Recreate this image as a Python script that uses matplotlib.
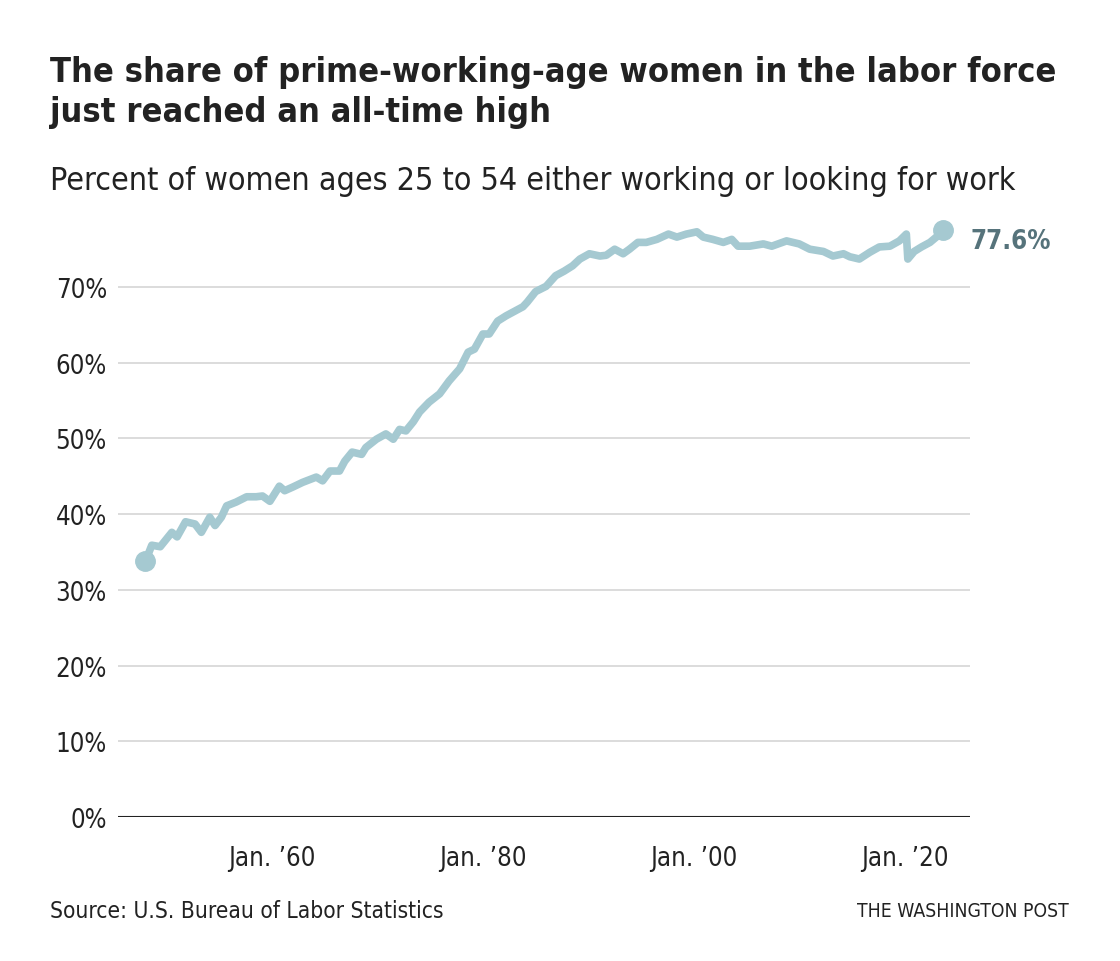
import matplotlib
matplotlib.use('Agg')
import matplotlib.pyplot as plt
from matplotlib.ticker import FixedLocator

plt.rcParams['font.family'] = ['DejaVu Sans']
plt.rcParams['font.stretch'] = 'condensed'

# share of women 25-54 in the labor force
years = [1948.0, 1948.6, 1949.4, 1950.5, 1951.0, 1951.8, 1952.7, 1953.3, 1954.1, 1954.6,
         1955.2, 1955.7, 1956.6, 1957.6, 1958.5, 1959.1, 1959.8, 1960.7, 1961.2, 1962.0,
         1962.9, 1964.2, 1964.8, 1965.5, 1966.4, 1966.9, 1967.6, 1968.5, 1968.9, 1969.9,
         1970.8, 1971.5, 1972.1, 1972.7, 1973.4, 1974.0, 1974.9, 1975.9, 1976.8, 1977.8,
         1978.6, 1979.2, 1980.0, 1980.6, 1981.4, 1982.2, 1983.0, 1983.8, 1984.2, 1985.0,
         1986.0, 1986.9, 1987.7, 1988.5, 1989.2, 1990.1, 1991.1, 1991.7, 1992.5, 1993.3,
         1993.9, 1994.7, 1995.5, 1996.5, 1997.6, 1998.4, 1999.3, 2000.3, 2000.9, 2001.8,
         2002.8, 2003.6, 2004.2, 2005.3, 2006.6, 2007.4, 2008.8, 2010.0, 2011.0, 2012.3,
         2013.2, 2014.2, 2014.8, 2015.7, 2016.7, 2017.6, 2018.6, 2019.5, 2020.16, 2020.3,
         2020.9, 2021.6, 2022.4, 2023.0, 2023.6]
share = [33.8, 35.9, 35.7, 37.6, 37.0, 39.0, 38.7, 37.6, 39.6, 38.5,
         39.6, 41.1, 41.6, 42.3, 42.3, 42.4, 41.7, 43.7, 43.1, 43.6,
         44.2, 44.9, 44.4, 45.7, 45.7, 47.0, 48.2, 47.9, 48.8, 49.9,
         50.6, 49.9, 51.2, 51.0, 52.2, 53.5, 54.8, 55.9, 57.6, 59.2,
         61.4, 61.8, 63.8, 63.8, 65.5, 66.2, 66.8, 67.4, 68.0, 69.4,
         70.1, 71.5, 72.1, 72.8, 73.7, 74.4, 74.1, 74.2, 75.0, 74.4,
         75.0, 75.9, 75.9, 76.3, 77.0, 76.6, 77.0, 77.3, 76.6, 76.3,
         75.9, 76.3, 75.4, 75.4, 75.7, 75.4, 76.1, 75.7, 75.0, 74.7,
         74.1, 74.4, 74.0, 73.7, 74.6, 75.3, 75.4, 76.1, 77.0, 73.7,
         74.7, 75.3, 75.9, 76.6, 77.6]

tick_years = [1960, 1980, 2000, 2020]
tick_labels = ["Jan. \u201960", "Jan. \u201980", "Jan. \u201900", "Jan. \u201920"]
y_ticks = [0, 10, 20, 30, 40, 50, 60, 70]

line_color = '#a5c9d1'
label_color = '#56737b'
text_color = '#222222'

fig = plt.figure(figsize=(11.2, 9.62), dpi=100)
ax = fig.add_axes([0.1054, 0.1497, 0.7607, 0.6268])

ax.plot(years, share, color=line_color, lw=5.5, solid_joinstyle='round',
        solid_capstyle='round', zorder=3)
ax.plot([years[0], years[-1]], [share[0], share[-1]], 'o', color=line_color,
        markersize=14, zorder=4)
ax.annotate(f"{share[-1]:.1f}%", (years[-1], share[-1]), xytext=(20, -8),
            textcoords='offset points', ha='left', va='center', fontsize=18.5,
            fontweight='bold', color=label_color)

ax.set_xlim(1945.4, 2026.2)
ax.set_ylim(0, 79.65)
ax.yaxis.set_major_locator(FixedLocator(y_ticks))
ax.set_yticklabels([f"{v}%" for v in y_ticks])
ax.set_xticks(tick_years)
ax.set_xticklabels(tick_labels)
ax.grid(axis='y', color='#d6d6d6', lw=1.2, zorder=0)
ax.axhline(0, color='#222222', lw=1.5, zorder=2)
for s in ax.spines.values():
    s.set_visible(False)
ax.tick_params(axis='both', length=0, labelsize=18.5, colors=text_color)
ax.tick_params(axis='y', pad=8)
ax.tick_params(axis='x', pad=20)

fig.text(0.0446, 0.866, "The share of prime-working-age women in the labor force\njust reached an all-time high",
         fontsize=24.7, fontweight='bold', color=text_color, ha='left', va='bottom',
         linespacing=1.25)
fig.text(0.0446, 0.811, "Percent of women ages 25 to 54 either working or looking for work",
         fontsize=23, color=text_color, ha='left', va='center')
fig.text(0.0446, 0.053, "Source: U.S. Bureau of Labor Statistics", fontsize=16.3,
         color=text_color, ha='left', va='center')
fig.text(0.954, 0.053, "THE WASHINGTON POST", fontsize=13.9, color=text_color,
         ha='right', va='center')

fig.savefig('out.png', dpi=100, facecolor='white')
